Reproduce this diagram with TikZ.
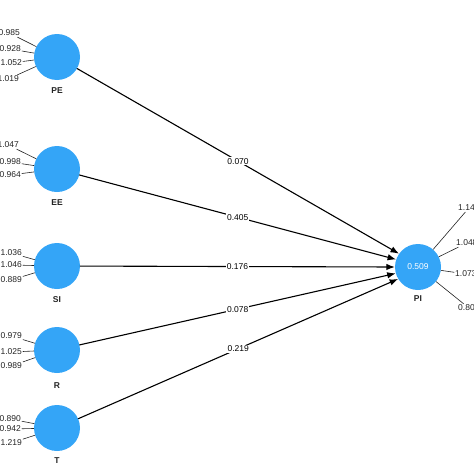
\documentclass[tikz,border=0pt]{standalone}
\usepackage{fontspec}
\setmainfont{Liberation Sans}
\usetikzlibrary{arrows.meta}
\definecolor{plsblue}{RGB}{52,165,247}
\definecolor{plsgray}{RGB}{35,35,35}

\begin{document}
\begin{tikzpicture}[x=1pt,y=-1pt,line cap=round,line join=round,
  lv/.style={circle,fill=plsblue,minimum size=46pt,inner sep=0pt},
  lvname/.style={font=\fontsize{8.5}{10}\selectfont\bfseries,text=plsgray},
  ld/.style={font=\fontsize{8.5}{10}\selectfont,text=plsgray,inner sep=1pt,anchor=east},
  ldr/.style={font=\fontsize{8.5}{10}\selectfont,text=plsgray,inner sep=1pt,anchor=west},
  ind/.style={plsgray,line width=0.6pt},
  pathc/.style={-{Latex[length=8.5pt,width=6.5pt]},black,line width=1.1pt},
  coef/.style={font=\fontsize{8.5}{10}\selectfont,fill=white,inner sep=1pt,pos=0.5}]
\useasboundingbox (0,0) rectangle (474,474);
% constructs
\node[lv] (PE) at (57,57) {};
\node[lv] (EE) at (57,169) {};
\node[lv] (SI) at (57,266) {};
\node[lv] (R) at (57,350) {};
\node[lv] (T) at (57,428) {};
\node[lv,text=white,font=\fontsize{8.5}{10}\selectfont] (PI) at (418,267) {0.509};
\node[lvname] (PEname) at (57,91) {PE};
\node[lvname] (EEname) at (57,203) {EE};
\node[lvname] (SIname) at (57,300) {SI};
\node[lvname] (Rname) at (57,386) {R};
\node[lvname] (Tname) at (57,461) {T};
\node[lvname] (PIname) at (418,299) {PI};
% outer loadings, left
\node[ld] (PE1) at (21,33) {0.985};
\node[ld] (PE2) at (22,49) {0.928};
\node[ld] (PE3) at (23,63) {1.052};
\node[ld] (PE4) at (20,79) {1.019};
\draw[ind] (PE1) -- (PE);
\draw[ind] (PE2) -- (PE);
\draw[ind] (PE3) -- (PE);
\draw[ind] (PE4) -- (PE);
\node[ld] (EE1) at (20,145) {1.047};
\node[ld] (EE2) at (22,162) {0.998};
\node[ld] (EE3) at (22,175) {0.964};
\draw[ind] (EE1) -- (EE);
\draw[ind] (EE2) -- (EE);
\draw[ind] (EE3) -- (EE);
\node[ld] (SI1) at (23,253) {1.036};
\node[ld] (SI2) at (23,265) {1.046};
\node[ld] (SI3) at (23,280) {0.889};
\draw[ind] (SI1) -- (SI);
\draw[ind] (SI2) -- (SI);
\draw[ind] (SI3) -- (SI);
\node[ld] (R1) at (23,336) {0.979};
\node[ld] (R2) at (23,352) {1.025};
\node[ld] (R3) at (23,366) {0.989};
\draw[ind] (R1) -- (R);
\draw[ind] (R2) -- (R);
\draw[ind] (R3) -- (R);
\node[ld] (T1) at (22,419) {0.890};
\node[ld] (T2) at (22,429) {0.942};
\node[ld] (T3) at (23,443) {1.219};
\draw[ind] (T1) -- (T);
\draw[ind] (T2) -- (T);
\draw[ind] (T3) -- (T);
% outer loadings, right
\node[ldr] (PI1) at (457,208) {1.147};
\node[ldr] (PI2) at (455,243) {1.048};
\node[ldr] (PI3) at (454,274) {1.073};
\node[ldr] (PI4) at (457,308) {0.806};
\draw[ind] (PI) -- (PI1);
\draw[ind] (PI) -- (PI2);
\draw[ind] (PI) -- (PI3);
\draw[ind] (PI) -- (PI4);
% path coefficients
\draw[pathc] (PE) -- (PI.145) node[coef] {0.070};
\draw[pathc] (EE) -- (PI.161) node[coef] {0.405};
\draw[pathc] (SI) -- (PI.180) node[coef] {0.176};
\draw[pathc] (R) -- (PI.196) node[coef] {0.078};
\draw[pathc] (T) -- (PI.211) node[coef] {0.219};
\end{tikzpicture}
\end{document}
